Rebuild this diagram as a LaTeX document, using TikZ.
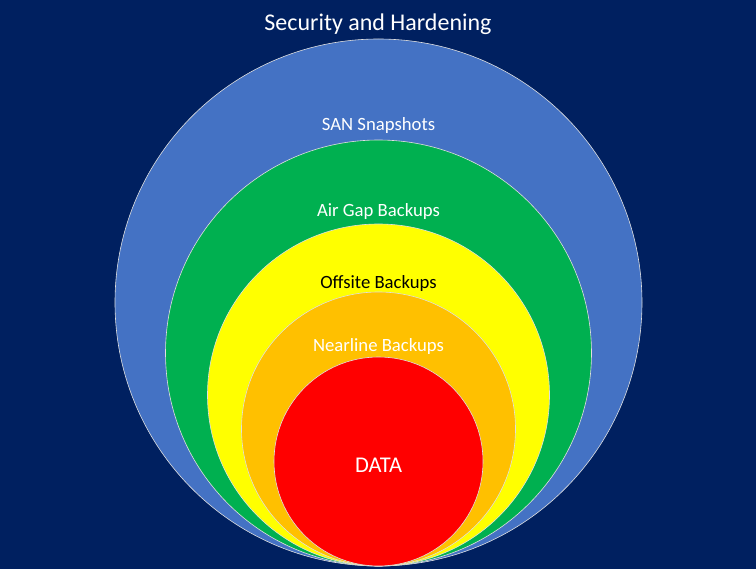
\documentclass[tikz,border=0pt]{standalone}
\usepackage{fontspec}
\setmainfont{Carlito}
\begin{document}
\begin{tikzpicture}[x=1pt,y=-1pt,
  ring/.style={circle,draw=white!75!gray,line width=0.6pt,inner sep=0pt},
  lbl/.style={font=\fontsize{18.7}{20}\selectfont,text=white}]
\definecolor{navy}{HTML}{002060}
\definecolor{cblue}{HTML}{4472C4}
\definecolor{cgreen}{HTML}{00B050}
\definecolor{cyellow}{HTML}{FFFF00}
\definecolor{corange}{HTML}{FFC000}
\definecolor{cred}{HTML}{FF0000}
\fill[navy] (0,0) rectangle (756,569);
\useasboundingbox (0,0) rectangle (756,569);
\node[font=\fontsize{24}{26}\selectfont,text=white] (title) at (378,24) {Security and Hardening};
\node[ring,fill=cblue,minimum size=527pt] (san) at (378.5,302.5) {};
\node[ring,fill=cgreen,minimum size=426pt] (air) at (378.5,353) {};
\node[ring,fill=cyellow,minimum size=342pt] (off) at (378.5,395) {};
\node[ring,fill=corange,minimum size=274pt] (near) at (378.5,429) {};
\node[ring,fill=cred,minimum size=209pt] (data) at (378.5,461.5) {};
\node[lbl] (t1) at (378.5,126) {SAN Snapshots};
\node[lbl] (t2) at (378.5,212) {Air Gap Backups};
\node[lbl,text=black] (t3) at (378.5,284) {Offsite Backups};
\node[lbl] (t4) at (378.5,347) {Nearline Backups};
\node[lbl,font=\fontsize{22.5}{24}\selectfont] (t5) at (378.5,465) {DATA};
\end{tikzpicture}
\end{document}
